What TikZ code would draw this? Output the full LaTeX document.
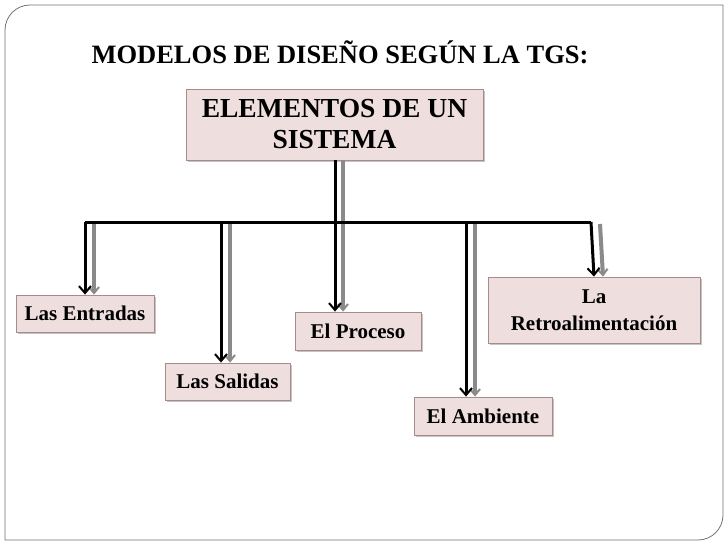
\documentclass[tikz,border=0pt]{standalone}
\usepackage{fontspec}
\setmainfont{Liberation Serif}
\usetikzlibrary{arrows.meta,shadows}
\definecolor{boxfill}{HTML}{EFDEDE}
\definecolor{boxline}{HTML}{A88A8A}
\definecolor{conngray}{HTML}{8A8A8A}
\tikzset{
  elbox/.style={draw=boxline,fill=boxfill,line width=0.8pt,inner sep=0pt,
    drop shadow={shadow xshift=1.5pt,shadow yshift=-1.5pt,opacity=0.45},
    font=\bfseries\fontsize{21}{27}\selectfont,align=center},
  blk/.style={line width=3pt,black,-{Straight Barb[length=7pt,width=12pt,line width=2pt]}},
  gry/.style={line width=4pt,conngray,-{Straight Barb[length=6pt,width=10pt,line width=2pt]}},
  blkline/.style={line width=3pt,black},
  gryline/.style={line width=4pt,conngray},
}
\begin{document}
\begin{tikzpicture}[x=1pt,y=-1pt]
\useasboundingbox (0,0) rectangle (728,546);
\fill[white] (0,0) rectangle (728,546);
\draw[gray!90!black,line width=0.8pt] (30,5) -- (723,5) -- (723,515)
  arc[start angle=0,end angle=90,radius=25] -- (5,540) -- (5,30)
  arc[start angle=180,end angle=270,radius=25] -- cycle;
\node[anchor=west,font=\bfseries\fontsize{26.5}{29}\selectfont] (title) at (88,52) {MODELOS DE DISEÑO SEGÚN LA TGS:};
\node[elbox,minimum width=297pt,minimum height=71pt,font=\bfseries\fontsize{27.5}{31}\selectfont] (top) at (334.5,124.5) {ELEMENTOS DE UN\\SISTEMA};
\node[elbox,minimum width=138pt,minimum height=37pt] (ent) at (85,313.5) {Las Entradas};
\node[elbox,minimum width=125pt,minimum height=37pt] (sal) at (227.5,381.5) {Las Salidas};
\node[elbox,minimum width=126pt,minimum height=38pt] (pro) at (358,331) {El Proceso};
\node[elbox,minimum width=138pt,minimum height=38pt] (amb) at (483,416) {El Ambiente};
\node[elbox,minimum width=212pt,minimum height=66pt] (ret) at (594,310) {La\\Retroalimentación};
% bus coordinates
\coordinate (bl) at (85,222);
\coordinate (br) at (591,222);
\coordinate (tb) at (335,222);
\coordinate (tg) at (343,222);
% trunk
\draw[gryline] (top.south -| tg) -- (tg);
\draw[blkline] (top.south -| tb) -- (tb);
% gray branches
\draw[gry] (94,224) -- (ent.north -| 94,0);
\draw[gry] (230,224) -- (sal.north -| 230,0);
\draw[gry] (tg) ++(0,2) -- (pro.north -| tg);
\draw[gry] (475,224) -- (amb.north -| 475,0);
\draw[gry] (600,224) -- (ret.north -| 603,0);
% black bus and branches
\draw[blkline] (bl) -- (br);
\draw[blk] (bl) -- (ent.north -| bl);
\draw[blk] (221,222) -- (sal.north -| 221,0);
\draw[blk] (tb) -- (pro.north -| tb);
\draw[blk] (466,222) -- (amb.north -| 466,0);
\draw[blk] (br) -- (ret.north -| 594,0);
\end{tikzpicture}
\end{document}
